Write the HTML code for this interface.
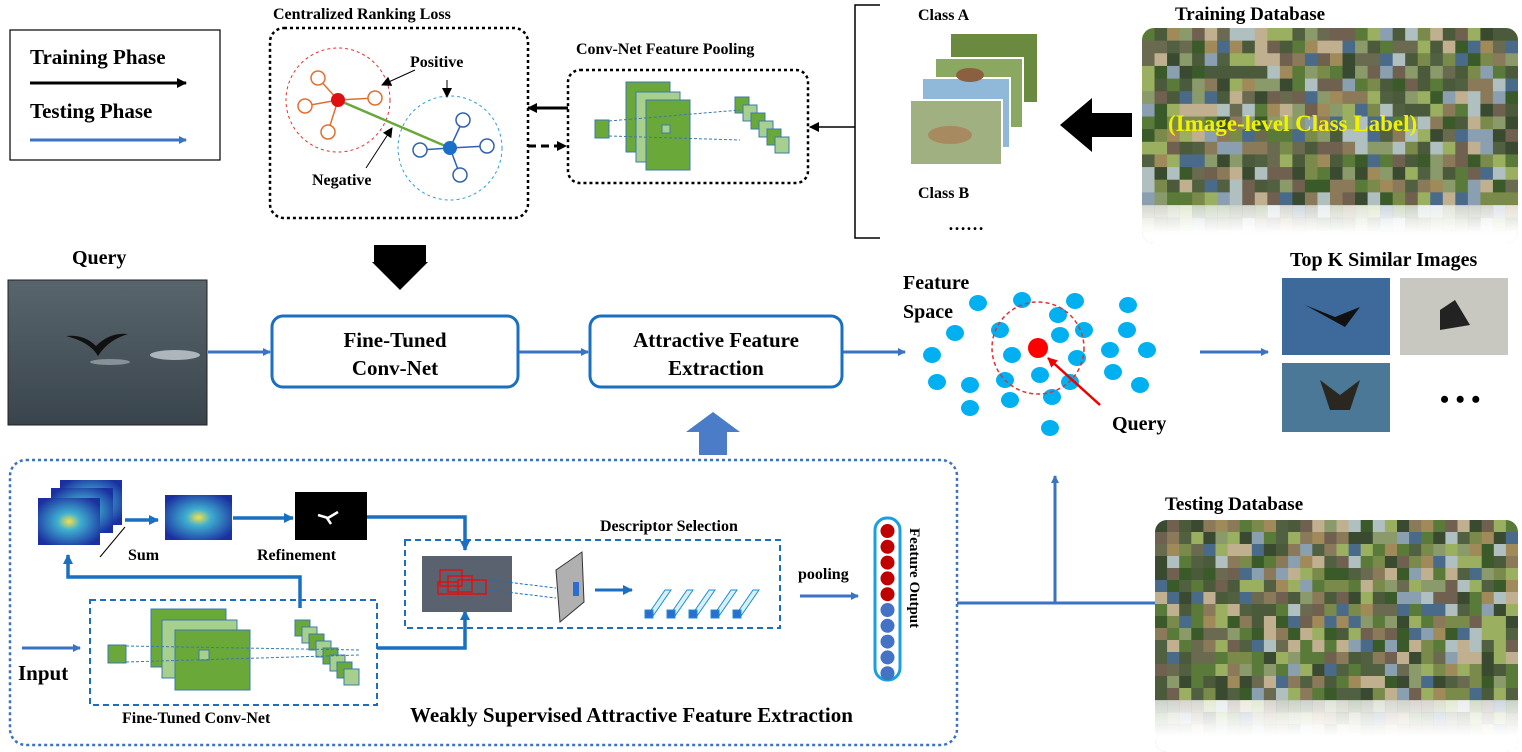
<!DOCTYPE html>
<html><head><meta charset="utf-8"><style>
html,body{margin:0;padding:0;background:#fff}
svg{display:block}
text{font-family:"Liberation Serif",serif;font-weight:bold;fill:#000}
</style></head><body>
<svg id="s" width="1522" height="752" viewBox="0 0 1522 752" xmlns="http://www.w3.org/2000/svg">
<defs>
<marker id="ab" markerWidth="8" markerHeight="8" refX="7" refY="4" orient="auto" markerUnits="userSpaceOnUse"><path d="M0,0 L8,4 L0,8 z" fill="#3b73c4"/></marker>
<marker id="ak" markerWidth="10" markerHeight="10" refX="9" refY="5" orient="auto" markerUnits="userSpaceOnUse"><path d="M0,0 L10,5 L0,10 z" fill="#000"/></marker>
<marker id="ar" markerWidth="10" markerHeight="10" refX="9" refY="5" orient="auto" markerUnits="userSpaceOnUse"><path d="M0,0 L10,5 L0,10 z" fill="#e00"/></marker>
<marker id="ad" markerWidth="10" markerHeight="10" refX="9" refY="5" orient="auto" markerUnits="userSpaceOnUse"><path d="M0,0 L10,5 L0,10 z" fill="#1a6fc0"/></marker>
<linearGradient id="sea" x1="0" y1="0" x2="0" y2="1"><stop offset="0" stop-color="#59656d"/><stop offset="1" stop-color="#39444d"/></linearGradient>
<linearGradient id="fade" x1="0" y1="0" x2="0" y2="1"><stop offset="0" stop-color="#fff" stop-opacity="0.55"/><stop offset="0.7" stop-color="#fff" stop-opacity="1"/></linearGradient>
<radialGradient id="hm" cx="0.5" cy="0.5" r="0.6"><stop offset="0" stop-color="#f5e14a"/><stop offset="0.3" stop-color="#40b0d0"/><stop offset="1" stop-color="#1a2fa0"/></radialGradient>
<clipPath id="c1"><rect x="1142" y="28" width="376" height="215" rx="12"/></clipPath>
<clipPath id="c2"><rect x="1155" y="520" width="363" height="232" rx="12"/></clipPath>
</defs>

<!-- Legend -->
<rect x="10" y="30" width="210" height="130" fill="#fff" stroke="#000" stroke-width="1.2"/>
<text x="30" y="64" font-size="21">Training Phase</text>
<line x1="30" y1="83" x2="186" y2="83" stroke="#000" stroke-width="3" marker-end="url(#ak)"/>
<text x="30" y="118" font-size="21">Testing Phase</text>
<line x1="30" y1="140" x2="186" y2="140" stroke="#3b73c4" stroke-width="3" marker-end="url(#ab)"/>

<!-- Centralized ranking loss -->
<text x="273" y="19" font-size="16">Centralized  Ranking Loss</text>
<rect x="270" y="28" width="258" height="190" rx="14" fill="none" stroke="#000" stroke-width="2.5" stroke-dasharray="3,3"/>
<circle cx="338" cy="100" r="52" fill="none" stroke="#e03030" stroke-dasharray="3,3"/>
<circle cx="450" cy="148" r="52" fill="none" stroke="#30a0d0" stroke-dasharray="3,3"/>
<line x1="338" y1="100" x2="450" y2="148" stroke="#6aa83a" stroke-width="2.5"/>
<g stroke="#e07030" stroke-width="1.5" fill="#fff">
<line x1="338" y1="100" x2="318" y2="78"/><line x1="338" y1="100" x2="375" y2="98"/><line x1="338" y1="100" x2="305" y2="106"/><line x1="338" y1="100" x2="328" y2="132"/>
<circle cx="318" cy="78" r="7"/><circle cx="375" cy="98" r="7"/><circle cx="305" cy="106" r="7"/><circle cx="328" cy="132" r="7"/></g>
<circle cx="338" cy="100" r="7" fill="#e01010"/>
<g stroke="#3060b0" stroke-width="1.5" fill="#fff">
<line x1="450" y1="148" x2="463" y2="120"/><line x1="450" y1="148" x2="487" y2="146"/><line x1="450" y1="148" x2="420" y2="150"/><line x1="450" y1="148" x2="460" y2="175"/>
<circle cx="463" cy="120" r="7"/><circle cx="487" cy="146" r="7"/><circle cx="420" cy="150" r="7"/><circle cx="460" cy="175" r="7"/></g>
<circle cx="450" cy="148" r="7" fill="#1a70c8"/>
<text x="410" y="67" font-size="16">Positive</text>
<line x1="415" y1="70" x2="382" y2="85" stroke="#000" marker-end="url(#ak)"/>
<line x1="447" y1="80" x2="447" y2="97" stroke="#000" marker-end="url(#ak)"/>
<text x="312" y="185" font-size="16">Negative</text>
<line x1="366" y1="168" x2="392" y2="128" stroke="#000" marker-end="url(#ak)"/>

<!-- Conv-Net feature pooling -->
<text x="576" y="54" font-size="16">Conv-Net Feature Pooling</text>
<rect x="568" y="70" width="240" height="113" rx="12" fill="none" stroke="#000" stroke-width="2.5" stroke-dasharray="3,3"/>
<line x1="568" y1="108" x2="528" y2="108" stroke="#000" stroke-width="3" marker-end="url(#ak)"/>
<line x1="528" y1="146" x2="566" y2="146" stroke="#000" stroke-width="3" stroke-dasharray="8,5" marker-end="url(#ak)"/>
<g stroke="#3a7ab0" stroke-width="1">
<rect x="595" y="120" width="14" height="18" fill="#6aa83a"/>
<rect x="626" y="82" width="44" height="70" fill="#6aa83a"/>
<rect x="636" y="92" width="44" height="70" fill="#a8d08d"/>
<rect x="646" y="100" width="44" height="70" fill="#6aa83a"/>
<rect x="662" y="125" width="8" height="8" fill="#a8d08d"/>
</g>
<g id="fmt" stroke="#3a7ab0" stroke-width="1"></g>
<line x1="609" y1="121" x2="740" y2="110" stroke="#3a7ab0" stroke-dasharray="3,2"/>
<line x1="609" y1="136" x2="740" y2="140" stroke="#3a7ab0" stroke-dasharray="3,2"/>

<!-- Bracket -->
<path d="M880,5 H855 V238 H880" fill="none" stroke="#000" stroke-width="1.5"/>
<line x1="855" y1="127" x2="810" y2="127" stroke="#000" stroke-width="1.5" marker-end="url(#ak)"/>
<text x="918" y="20" font-size="16">Class A</text>
<g stroke="#fff" stroke-width="2">
<rect x="950" y="33" width="88" height="70" fill="#6a8a40"/>
<rect x="935" y="58" width="88" height="70" fill="#8aa860"/>
<rect x="922" y="78" width="88" height="70" fill="#90b8d8"/>
<rect x="910" y="100" width="92" height="65" fill="#a0b080"/>
</g>
<ellipse cx="950" cy="135" rx="22" ry="9" fill="#a88a60"/>
<ellipse cx="970" cy="75" rx="14" ry="7" fill="#8a6040"/>
<text x="918" y="198" font-size="16">Class B</text>
<text x="948" y="230" font-size="18">……</text>
<polygon points="1060,125 1092,98 1092,113 1132,113 1132,137 1092,137 1092,152" fill="#000"/>

<!-- Training DB -->
<text x="1175" y="20" font-size="19">Training Database</text>
<g clip-path="url(#c1)"><g id="tdb"></g>
<rect x="1142" y="205" width="376" height="40" fill="url(#fade)"/></g>
<text x="1168" y="131" font-size="23" style="fill:#f2f200">(Image-level  Class  Label)</text>

<polygon points="374,245 426,245 426,262 428,262 400,290 372,262 374,262" fill="#000"/>

<!-- Query -->
<text x="72" y="264" font-size="20">Query</text>
<rect x="8" y="280" width="199" height="145" fill="url(#sea)" stroke="#222"/>
<path d="M66,336 q18,-2 30,10 q14,-14 32,-12 q-20,6 -30,22 q-8,-14 -32,-20 z" fill="#111"/>
<ellipse cx="175" cy="355" rx="25" ry="5" fill="#d8e0e6" opacity="0.7"/>
<ellipse cx="110" cy="362" rx="20" ry="3" fill="#c8d0d6" opacity="0.5"/>

<rect x="272" y="316" width="246" height="71" rx="11" fill="#fff" stroke="#1a6fc0" stroke-width="3"/>
<text x="395" y="347" font-size="21" text-anchor="middle">Fine-Tuned</text>
<text x="395" y="375" font-size="21" text-anchor="middle">Conv-Net</text>
<rect x="590" y="316" width="252" height="71" rx="11" fill="#fff" stroke="#1a6fc0" stroke-width="3"/>
<text x="716" y="347" font-size="21" text-anchor="middle">Attractive Feature</text>
<text x="716" y="375" font-size="21" text-anchor="middle">Extraction</text>
<g stroke="#3b73c4" stroke-width="3">
<line x1="208" y1="352" x2="270" y2="352" marker-end="url(#ab)"/>
<line x1="519" y1="352" x2="588" y2="352" marker-end="url(#ab)"/>
<line x1="843" y1="352" x2="905" y2="352" marker-end="url(#ab)"/>
<line x1="1200" y1="352" x2="1268" y2="352" marker-end="url(#ab)"/>
</g>
<polygon points="713,412 740,432 727,432 727,455 699,455 699,432 686,432" fill="#4a7cc8"/>

<!-- Feature space -->
<text x="903" y="289" font-size="20">Feature</text>
<text x="903" y="318" font-size="20">Space</text>
<g id="dots" fill="#00b0f0"></g>
<circle cx="1038" cy="348" r="46" fill="none" stroke="#e03030" stroke-width="1.5" stroke-dasharray="4,3"/>
<circle cx="1038" cy="348" r="10" fill="#ff0000"/>
<line x1="1100" y1="405" x2="1048" y2="358" stroke="#e00" stroke-width="2.5" marker-end="url(#ar)"/>
<text x="1112" y="430" font-size="20">Query</text>

<!-- Top K -->
<text x="1290" y="266" font-size="20">Top K Similar Images</text>
<rect x="1282" y="278" width="108" height="77" fill="#3d6a9a"/>
<path d="M1305,305 l30,12 l25,-10 l-15,20 z" fill="#111"/>
<rect x="1400" y="278" width="108" height="77" fill="#c8c8c0"/>
<path d="M1440,310 l15,-10 l15,25 l-30,5 z" fill="#222"/>
<rect x="1282" y="363" width="108" height="69" fill="#4a7896"/>
<path d="M1320,380 l20,15 l20,-15 l-10,30 l-20,0 z" fill="#2a2620"/>
<text x="1440" y="408" font-size="26">• • •</text>

<!-- Bottom dotted box -->
<rect x="10" y="460" width="947" height="285" rx="16" fill="none" stroke="#3b73c4" stroke-width="2.5" stroke-dasharray="3,3"/>
<rect x="60" y="480" width="62" height="45" fill="url(#hm)"/>
<rect x="51" y="488" width="62" height="45" fill="url(#hm)"/>
<rect x="38" y="498" width="62" height="47" fill="url(#hm)"/>
<line x1="100" y1="557" x2="125" y2="527" stroke="#000"/>
<text x="128" y="560" font-size="16">Sum</text>
<line x1="125" y1="520" x2="158" y2="520" stroke="#1a6fc0" stroke-width="3.5" marker-end="url(#ad)"/>
<rect x="165" y="495" width="67" height="45" fill="url(#hm)"/>
<line x1="233" y1="518" x2="293" y2="518" stroke="#1a6fc0" stroke-width="3.5" marker-end="url(#ad)"/>
<rect x="295" y="492" width="72" height="48" fill="#000"/>
<path d="M318,515 l10,3 l10,-6 M327,518 l4,6" stroke="#fff" stroke-width="2.5" fill="none"/>
<text x="257" y="560" font-size="16">Refinement</text>
<path d="M367,517 H465 V550" fill="none" stroke="#1a6fc0" stroke-width="3.5" marker-end="url(#ad)"/>
<path d="M300,608 V577 H68 V555" fill="none" stroke="#1a6fc0" stroke-width="3.5" marker-end="url(#ad)"/>
<rect x="90" y="600" width="287" height="105" fill="none" stroke="#1a6fc0" stroke-width="2" stroke-dasharray="6,4"/>
<text x="122" y="723" font-size="16">Fine-Tuned  Conv-Net</text>
<g stroke="#3a7ab0" stroke-width="1">
<rect x="108" y="645" width="18" height="18" fill="#6aa83a"/>
<rect x="151" y="609" width="75" height="58" fill="#6aa83a"/>
<rect x="162" y="620" width="75" height="58" fill="#a8d08d"/>
<rect x="175" y="630" width="75" height="60" fill="#6aa83a"/>
<rect x="199" y="650" width="10" height="10" fill="#a8d08d"/>
</g>
<g id="fmb" stroke="#3a7ab0" stroke-width="1"></g>
<line x1="126" y1="646" x2="360" y2="650" stroke="#3a7ab0" stroke-dasharray="3,2"/>
<line x1="126" y1="662" x2="360" y2="655" stroke="#3a7ab0" stroke-dasharray="3,2"/>
<text x="18" y="680" font-size="21">Input</text>
<line x1="22" y1="648" x2="80" y2="648" stroke="#3b73c4" stroke-width="3" marker-end="url(#ab)"/>
<path d="M377,648 H465 V611" fill="none" stroke="#1a6fc0" stroke-width="3.5" marker-end="url(#ad)"/>
<text x="600" y="531" font-size="16">Descriptor Selection</text>
<rect x="405" y="540" width="375" height="88" fill="none" stroke="#1a6fc0" stroke-width="2" stroke-dasharray="6,4"/>
<rect x="422" y="556" width="90" height="56" fill="#5a6270"/>
<g fill="none" stroke="#e01010" stroke-width="1.5"><rect x="440" y="570" width="22" height="16"/><rect x="448" y="576" width="24" height="16"/><rect x="458" y="580" width="28" height="14"/><rect x="438" y="582" width="20" height="12"/></g>
<line x1="490" y1="580" x2="556" y2="588" stroke="#1a6fc0" stroke-dasharray="3,2"/>
<line x1="490" y1="590" x2="556" y2="598" stroke="#1a6fc0" stroke-dasharray="3,2"/>
<polygon points="556,570 582,552 584,602 560,622" fill="#b0b0b0" stroke="#333"/>
<rect x="573" y="582" width="6" height="14" fill="#2a6fd0"/>
<line x1="595" y1="590" x2="632" y2="590" stroke="#1a6fc0" stroke-width="3" marker-end="url(#ad)"/>
<g id="bars" fill="#d6f0fa" stroke="#1a8fd0"></g>
<text x="798" y="579" font-size="16">pooling</text>
<line x1="800" y1="596" x2="858" y2="596" stroke="#3b73c4" stroke-width="3" marker-end="url(#ab)"/>
<rect x="875" y="518" width="25" height="162" rx="12" fill="#fff" stroke="#1a9fe0" stroke-width="3"/>
<g id="fo"></g>
<text x="0" y="0" font-size="15" transform="translate(910,528) rotate(90)">Feature Output</text>
<text x="410" y="722" font-size="21">Weakly Supervised  Attractive Feature Extraction</text>

<!-- Testing DB -->
<text x="1165" y="510" font-size="19">Testing Database</text>
<g clip-path="url(#c2)"><g id="sdb"></g>
<rect x="1155" y="700" width="363" height="52" fill="url(#fade)"/></g>
<line x1="957" y1="603" x2="1155" y2="603" stroke="#3b73c4" stroke-width="3"/>
<line x1="1055" y1="603" x2="1055" y2="476" stroke="#3b73c4" stroke-width="3" marker-end="url(#ab)"/>
</svg>
<script>
var NS="http://www.w3.org/2000/svg",S=7;
function r(){S=(S*16807)%2147483647;return S/2147483647;}
function el(p,t,a){var e=document.createElementNS(NS,t);for(var k in a)e.setAttribute(k,a[k]);document.getElementById(p).appendChild(e);return e;}
var pal=["#5a7a3a","#7a8a4a","#3a5a2a","#8a9a6a","#a08a5a","#6a6a50","#4a6a8a","#8aa0b0","#c0b090","#3a4a30","#9ab060","#706050","#b0c0c0","#506040","#4a5a3a","#8a7a5a"];
function mosaic(id,x0,y0,w,h,c,rw,extra){var cw=w/c,ch=h/rw;for(var i=0;i<rw+extra;i++)for(var j=0;j<c;j++){el(id,"rect",{x:x0+j*cw,y:y0+i*ch,width:cw+0.5,height:ch+0.5,fill:pal[Math.floor(r()*pal.length)],opacity:i>=rw?0.6:1});}}
mosaic("tdb",1142,28,376,177,30,14,4);
mosaic("sdb",1155,520,363,180,30,15,5);
for(var i=0;i<6;i++){el("fmt","rect",{x:735+i*8,y:97+i*8,width:14,height:16,fill:i%2?"#a8d08d":"#6aa83a"});}
for(var i=0;i<8;i++){el("fmb","rect",{x:295+i*7,y:620+i*7,width:15,height:16,fill:i%2?"#a8d08d":"#6aa83a"});}
for(var i=0;i<5;i++){var x=655+i*22,y=598;el("bars","polygon",{points:(x-8)+","+(y+18)+" "+(x+10)+","+(y-8)+" "+(x+16)+","+(y-8)+" "+(x-2)+","+(y+18)});el("bars","rect",{x:x-10,y:y+12,width:8,height:8,fill:"#2a6fd0"});}
for(var i=0;i<10;i++){el("fo","circle",{cx:887.5,cy:531+i*15.8,r:7,fill:i<5?"#c00000":"#4472c4"});}
var d=[[978,303],[1022,300],[1075,301],[1000,330],[1058,315],[1128,305],[955,333],[1084,330],[1127,330],[1012,355],[1060,335],[1110,350],[1147,350],[932,355],[1005,380],[1040,375],[1077,358],[1113,372],[937,382],[970,385],[1070,382],[1140,385],[1052,397],[1010,400],[970,408],[1050,428]];
d.forEach(function(p){el("dots","ellipse",{cx:p[0],cy:p[1],rx:9,ry:8});});
</script>
</body></html>
